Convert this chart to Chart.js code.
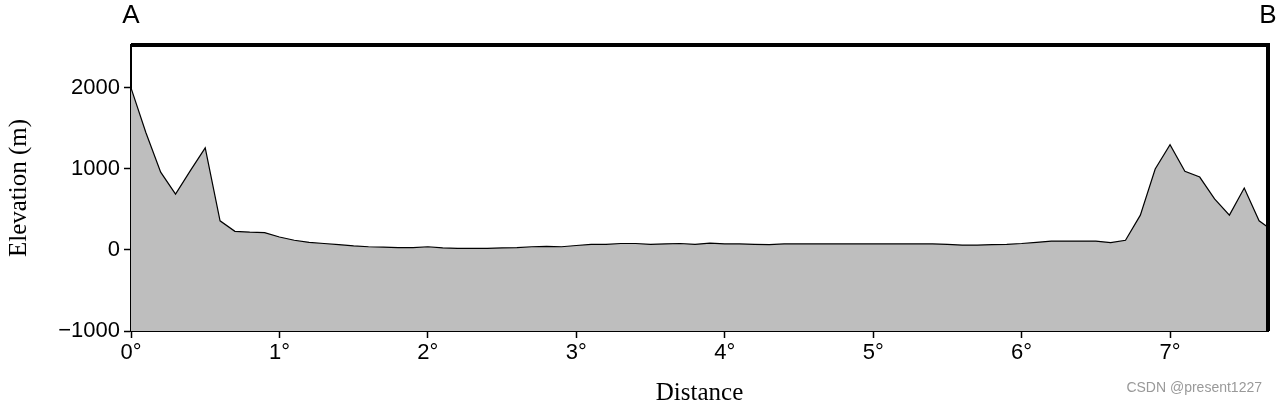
<!DOCTYPE html>
<html>
<head>
<meta charset="utf-8">
<script src="https://cdn.jsdelivr.net/npm/chart.js@4"></script>
<style>
  html, body { margin: 0; padding: 0; background: #fff; }
  #wrap { width: 1280px; height: 408px; }
</style>
</head>
<body>
<div id="wrap"><canvas id="profile"></canvas></div>
<script>
// Distance (degrees) along the profile
const distance = [0, 0.1, 0.2, 0.3, 0.4, 0.5, 0.6, 0.7, 0.8, 0.9,
	1.0, 1.1, 1.2, 1.3, 1.4, 1.5, 1.6, 1.7, 1.8, 1.9,
	2.0, 2.1, 2.2, 2.3, 2.4, 2.5, 2.6, 2.7, 2.8, 2.9,
	3.0, 3.1, 3.2, 3.3, 3.4, 3.5, 3.6, 3.7, 3.8, 3.9,
	4.0, 4.1, 4.2, 4.3, 4.4, 4.5, 4.6, 4.7, 4.8, 4.9,
	5.0, 5.1, 5.2, 5.3, 5.4, 5.5, 5.6, 5.7, 5.8, 5.9,
	6.0, 6.1, 6.2, 6.3, 6.4, 6.5, 6.6, 6.7, 6.8, 6.9,
	7.0, 7.1, 7.2, 7.3, 7.4, 7.5, 7.6, 7.66];
// Elevation (m)
const elevation = [2000, 1450, 960, 690, 980, 1260, 360, 230, 220, 215,
	160, 120, 95, 80, 65, 50, 40, 35, 30, 30,
	40, 25, 20, 20, 20, 25, 30, 40, 45, 40,
	55, 70, 70, 80, 80, 70, 75, 80, 70, 85,
	75, 75, 70, 65, 75, 75, 75, 75, 75, 75,
	75, 75, 75, 75, 75, 70, 60, 60, 65, 70,
	80, 95, 110, 110, 110, 110, 90, 120, 430, 1000,
	1300, 970, 900, 630, 430, 765, 360, 280];
const yTicks = [-1000, 0, 1000, 2000];
const xTicks = [0, 1, 2, 3, 4, 5, 6, 7];
const endLabels = ['A', 'B'];

const frame = {
	id: 'frame',
	afterDraw(chart) {
		const { ctx, chartArea: a } = chart;
		ctx.save();
		ctx.strokeStyle = '#000';
		ctx.lineWidth = 4;
		ctx.beginPath();
		ctx.moveTo(a.left, a.top);
		ctx.lineTo(a.right, a.top);
		ctx.lineTo(a.right, a.bottom);
		ctx.stroke();
		ctx.fillStyle = '#000';
		ctx.font = '26px "Liberation Sans", Arial, sans-serif';
		ctx.textAlign = 'center';
		ctx.textBaseline = 'alphabetic';
		ctx.fillText(endLabels[0], a.left, 23);
		ctx.fillText(endLabels[1], a.right, 23);
		ctx.font = '14px "Liberation Sans", Arial, sans-serif';
		ctx.fillStyle = '#999';
		ctx.textAlign = 'right';
		ctx.fillText('CSDN @present1227', 1262, 392);
		ctx.restore();
	}
};

new Chart(document.getElementById('profile'), {
	type: 'line',
	data: {
		datasets: [{
			data: distance.map((d, i) => ({ x: d, y: elevation[i] })),
			borderColor: '#000',
			borderWidth: 1.2,
			backgroundColor: '#bebebe',
			fill: 'start',
			pointRadius: 0,
			tension: 0
		}]
	},
	options: {
		responsive: true,
		maintainAspectRatio: false,
		animation: false,
		layout: { padding: { top: 45, right: 12, left: 0, bottom: 0 } },
		plugins: { legend: { display: false }, tooltip: { enabled: false } },
		scales: {
			x: {
				type: 'linear',
				min: 0,
				max: 7.66,
				afterBuildTicks: s => { s.ticks = xTicks.map(v => ({ value: v })); },
				afterFit: s => { s.height = 77; },
				ticks: {
					color: '#000',
					font: { family: '"Liberation Sans", Arial, sans-serif', size: 22 },
					padding: 2,
					maxRotation: 0,
					callback: v => v + '°'
				},
				grid: { drawOnChartArea: false, color: '#000', tickLength: 7, tickWidth: 1.5 },
				border: { color: '#000', width: 2 },
				title: {
					display: true,
					text: 'Distance',
					color: '#000',
					font: { family: '"Liberation Serif", "Times New Roman", serif', size: 25 },
					padding: { top: 10, bottom: 0 }
				}
			},
			y: {
				min: -1000,
				max: 2530,
				afterBuildTicks: s => { s.ticks = yTicks.map(v => ({ value: v })); },
				afterFit: s => { s.width = 131; },
				ticks: {
					color: '#000',
					font: { family: '"Liberation Sans", Arial, sans-serif', size: 22 },
					padding: 4,
					callback: v => v < 0 ? '\u2212' + Math.abs(v) : v
				},
				grid: { drawOnChartArea: false, color: '#000', tickLength: 7, tickWidth: 1.5 },
				border: { color: '#000', width: 2 },
				title: {
					display: true,
					text: 'Elevation (m)',
					color: '#000',
					font: { family: '"Liberation Serif", "Times New Roman", serif', size: 25 },
					padding: { bottom: 0 }
				}
			}
		}
	},
	plugins: [frame]
});
</script>
</body>
</html>
